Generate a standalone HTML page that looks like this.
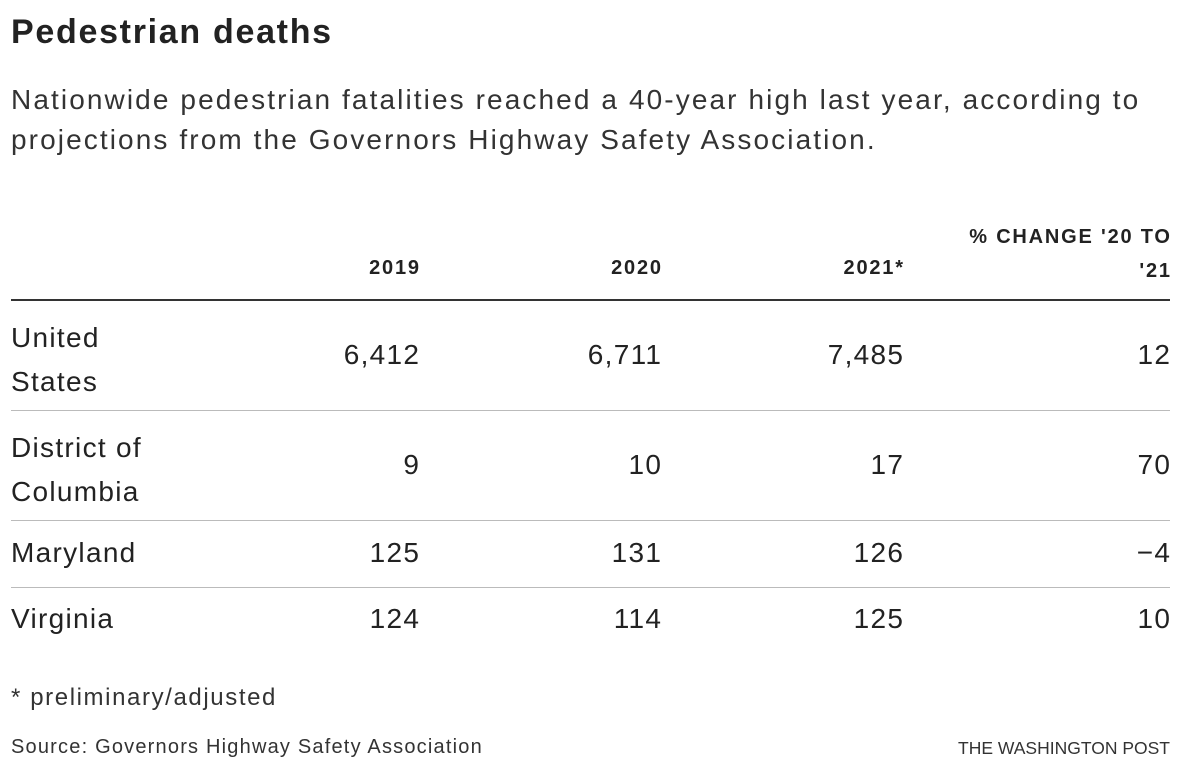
<!DOCTYPE html>
<html><head><meta charset="utf-8">
<style>
body{margin:0;width:1180px;height:772px;background:#fff;font-family:"Liberation Sans",sans-serif;color:#222;position:relative;overflow:hidden}
.a{position:absolute;white-space:nowrap}
.r{text-align:right}
.h{font-weight:bold;font-size:20px;letter-spacing:1.8px;color:#222;margin-right:-1.8px}
.c{font-size:28px;letter-spacing:1.3px;color:#222}
.r.c{margin-right:-1.3px}
.line{position:absolute;left:11px;width:1159px;height:1px;background:#bbb}
</style></head><body>
<div class="a" style="left:11px;top:13px;font-size:34px;letter-spacing:1.7px;font-weight:bold;color:#222">Pedestrian deaths</div>
<div class="a" style="left:11px;top:80px;font-size:28px;letter-spacing:2.1px;line-height:40px;color:#333">Nationwide pedestrian fatalities reached a 40-year high last year, according to<br>projections from the Governors Highway Safety Association.</div>

<div class="a h r" style="right:761px;top:257px">2019</div>
<div class="a h r" style="right:519px;top:257px">2020</div>
<div class="a h r" style="right:277px;top:257px">2021*</div>
<div class="a h r" style="right:10px;top:220px;line-height:34px">% CHANGE '20 TO<br>'21</div>
<div class="a" style="left:11px;top:299px;width:1159px;height:2px;background:#333"></div>

<div>
<div class="a c" style="left:11px;top:316px;line-height:44px">United<br>States</div>
<div class="a c r" style="right:761px;top:339px">6,412</div>
<div class="a c r" style="right:519px;top:339px">6,711</div>
<div class="a c r" style="right:277px;top:339px">7,485</div>
<div class="a c r" style="right:10px;top:339px">12</div>
</div>
<div class="line" style="top:410px"></div>
<div>
<div class="a c" style="left:11px;top:426px;line-height:44px">District of<br>Columbia</div>
<div class="a c r" style="right:761px;top:449px">9</div>
<div class="a c r" style="right:519px;top:449px">10</div>
<div class="a c r" style="right:277px;top:449px">17</div>
<div class="a c r" style="right:10px;top:449px">70</div>
</div>
<div class="line" style="top:520px"></div>
<div>
<div class="a c" style="left:11px;top:537px">Maryland</div>
<div class="a c r" style="right:761px;top:537px">125</div>
<div class="a c r" style="right:519px;top:537px">131</div>
<div class="a c r" style="right:277px;top:537px">126</div>
<div class="a c r" style="right:10px;top:537px">−4</div>
</div>
<div class="line" style="top:587px"></div>
<div>
<div class="a c" style="left:11px;top:603px">Virginia</div>
<div class="a c r" style="right:761px;top:603px">124</div>
<div class="a c r" style="right:519px;top:603px">114</div>
<div class="a c r" style="right:277px;top:603px">125</div>
<div class="a c r" style="right:10px;top:603px">10</div>
</div>

<div class="a" style="left:11px;top:684px;font-size:24px;letter-spacing:1.6px;color:#333">* preliminary/adjusted</div>
<div class="a" style="left:11px;top:736px;font-size:20px;letter-spacing:1.2px;color:#333">Source: Governors Highway Safety Association</div>
<div class="a r" style="right:10px;top:738px;font-size:17.5px;color:#333">THE WASHINGTON POST</div>
</body></html>
